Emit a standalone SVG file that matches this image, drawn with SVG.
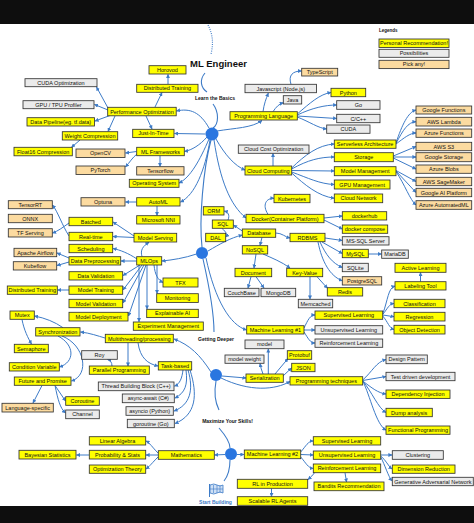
<svg xmlns="http://www.w3.org/2000/svg" width="474" height="523" viewBox="0 0 474 523">
<defs>
<marker id="a" viewBox="0 0 10 10" refX="9" refY="5" markerWidth="4" markerHeight="4" markerUnits="userSpaceOnUse" orient="auto"><path d="M0,0 L10,5 L0,10 z" fill="#3d7bc7"/></marker>
<style>
.y{fill:#ffff00}.g{fill:#ebebeb}.o{fill:#fcdba0}
rect.y,rect.g,rect.o{stroke:#333;stroke-width:.85}
.t{font-family:"Liberation Sans",Arial,sans-serif;font-size:5.5px;text-anchor:middle;fill:#111}
.c path{fill:none;stroke:#3d7bc7;stroke-width:1;marker-end:url(#a)}
.s path{fill:none;stroke:#3d7bc7;stroke-width:1.1}
.h{fill:#2a76e0}
.lbl{font-family:"Liberation Sans",Arial,sans-serif;font-weight:bold;text-anchor:middle;fill:#111}
</style>
</defs>
<rect x="0" y="0" width="474" height="524" fill="#ffffff"/>
<rect x="0" y="0" width="474" height="24" fill="#0e0e0e"/>
<rect x="0" y="506" width="474" height="17" fill="#0e0e0e"/>

<g id="spine" class="s">
<path d="M208 25 Q215 38 211 54" stroke-dasharray="1,1.2"/>
<path d="M205 73 C199 80 201 88 207 92"/>
<path d="M213 104 C219 112 219 124 213 128"/>
<path d="M211 140 C203 170 199 220 202 247"/>
<path d="M203 259 C210 290 214 315 214 332"/>
<path d="M216 381 C214 392 215 402 219 410"/>
<path d="M219 428 C226 436 230 442 230 448"/>
<path d="M230 460 C230 470 228 476 224 481"/>
</g>

<g id="hubs">
<circle class="h" cx="212" cy="134" r="6.5"/>
<circle class="h" cx="202" cy="253" r="6"/>
<circle class="h" cx="216" cy="375" r="6"/>
<circle class="h" cx="231" cy="454" r="6"/>
</g>

<g id="spine-labels">
<text class="lbl" x="218.5" y="66.5" font-size="9.5">ML Engineer</text>
<text class="lbl" x="215" y="99.7" font-size="5">Learn the Basics</text>
<text class="lbl" x="216" y="341" font-size="5">Getting Deeper</text>
<text class="lbl" x="227.5" y="423" font-size="5">Maximize Your Skills!</text>
<text class="lbl" x="215.5" y="503.5" font-size="5" style="fill:#3d7bc7">Start Building</text>
</g>

<g id="flag">
<path d="M209.5 484 L209.5 497" stroke="#3d7bc7" stroke-width="1" fill="none"/>
<path d="M210 485 Q214 483 217 485 T223 485 L223 493 Q220 491 217 493 T210 493 Z" fill="#cfe0f5" stroke="#3d7bc7" stroke-width=".8"/>
<path d="M213.5 485 V493 M217 485 V493 M220 485 V493 M210 489 H223" stroke="#3d7bc7" stroke-width=".6" fill="none"/>
</g>

<g id="legend">
<text class="lbl" x="379" y="32" font-size="4.5" style="text-anchor:start">Legends</text>
<g id="n-leg1"><rect class="y" x="379" y="39" width="70" height="8.5"/><text class="t" x="414" y="45.2">Personal Recommendation!</text></g>
<g id="n-leg2"><rect class="g" x="379" y="49.3" width="70" height="8"/><text class="t" x="414" y="55.3">Possibilities</text></g>
<g id="n-leg3"><rect class="o" x="379" y="60.3" width="70" height="8.3"/><text class="t" x="414" y="66.4">Pick any!</text></g>
</g>

<g id="connectors" class="c">
<path d="M209 128 C200 112 190 108 176.5 111"/>
<path d="M205.5 134 L174.5 133.5"/>
<path d="M207 137 C200 145 192 150 184.5 151.5"/>
<path d="M209 139 C200 160 190 178 179 183"/>
<path d="M210 140 C205 170 195 195 180.5 202"/>
<path d="M217 131 C235 128 252 128 262 120.5"/>
<path d="M216 139 C225 155 235 166 245 170"/>
<path d="M214 140 C220 180 230 205 246 218"/>
<path d="M108 108 L96.5 87"/>
<path d="M108 110 L94.5 104.5"/>
<path d="M110 115.5 L95 121"/>
<path d="M115 116 L108 131.5"/>
<path d="M146 116 L152 129"/>
<path d="M155 107 L162 92.5"/>
<path d="M168 84 L168 74.5"/>
<path d="M80 140 L71.5 147.3"/>
<path d="M136.5 151.5 L125.5 153"/>
<path d="M137 154 C132 158 130 162 125.5 167"/>
<path d="M160 155.7 L160 166.5"/>
<path d="M136.5 202 L125.5 202"/>
<path d="M157 206 L157 215.5"/>
<path d="M134 236 L113 222"/>
<path d="M134 237.5 L113 236.5"/>
<path d="M69 223 C62 228 58 231 52.5 233"/>
<path d="M69 236 C62 225 58 212 52.5 205"/>
<path d="M142 256.5 C140 250 143 246 149 242.3"/>
<path d="M196.5 254 C185 258 172 260 162 261"/>
<path d="M208 251 C220 244 230 238 242.3 235"/>
<path d="M206 258 C215 300 230 325 246.5 330"/>
<path d="M137 259 C128 253 120 250 113 248.5"/>
<path d="M136.5 261 L121 261"/>
<path d="M69 258 L57 253"/>
<path d="M69 262 L57 265.5"/>
<path d="M140 265 L123 275.5"/>
<path d="M142 265 L123 290"/>
<path d="M144 265 L123 303"/>
<path d="M146 265 L128.5 316"/>
<path d="M69 290 L57.5 290"/>
<path d="M154 265 C155 275 158 280 163 282.5"/>
<path d="M157 265 L157 293.5"/>
<path d="M147 265 L147 309"/>
<path d="M139 265 L139 321.7"/>
<path d="M211 372 C200 355 190 345 174 339"/>
<path d="M222 376 L246 378"/>
<path d="M221 378 C250 392 275 390 290 381.5"/>
<path d="M105 338 C98 336 90 333 80.5 332"/>
<path d="M128 342.7 L128 366"/>
<path d="M138 342.7 C140 358 148 364 158 366"/>
<path d="M112 366 C112 362 110 360 107.5 359.5"/>
<path d="M63 327.7 C55 322 45 318 34.5 316"/>
<path d="M22 319.5 C24 330 28 338 31.5 344"/>
<path d="M58 336 C75 345 75 362 59.5 367"/>
<path d="M62 336 C85 345 90 375 71.5 381"/>
<path d="M42 385.5 L33 403"/>
<path d="M55 385.5 L65.5 401"/>
<path d="M55 385.5 C58 400 60 408 65.5 413"/>
<path d="M183 370 C182 378 180 384 174.5 386"/>
<path d="M186 370 C188 385 185 393 175 398"/>
<path d="M188 370 C194 390 190 405 174 411"/>
<path d="M190 370 C198 395 196 415 175 423.5"/>
<path d="M225 454.5 L214.5 455"/>
<path d="M237 454.5 L244 454.5"/>
<path d="M158 453 C152 447 150 443 146 441"/>
<path d="M158 455 L146 455"/>
<path d="M158 457 C152 463 150 466 146 469"/>
<path d="M89 455 L76.5 455"/>
<path d="M300.7 452 C306 446 308 441 313.3 441"/>
<path d="M300.7 454.5 L313.3 455"/>
<path d="M300.7 457 C306 463 308 468 313.3 468.5"/>
<path d="M380.7 455 L392 455"/>
<path d="M380.7 456 C386 460 388 466 392 469"/>
<path d="M380.7 457 C385 465 388 476 392 481"/>
<path d="M345 472.7 L346.5 482"/>
<path d="M315 472 C313 475 311 477 308 479.5"/>
<path d="M271.5 488.3 L271.5 496.5"/>
<path d="M362.7 380 C372 372 376 362 386 359.5"/>
<path d="M362.7 380.5 L386 376.5"/>
<path d="M362.7 381 C372 388 378 393 386 394"/>
<path d="M362.7 381 C372 392 378 408 386 412.5"/>
<path d="M362.7 381 C370 395 376 425 386 430"/>
<path d="M268.3 374 L268.3 349"/>
<path d="M263 374 Q261 369 260 363.5"/>
<path d="M275 374 L288 358.5"/>
<path d="M283 376 L291.5 368"/>
<path d="M304 328 C308 320 310 315 315 315"/>
<path d="M304 330 L315 330"/>
<path d="M304 332 C308 338 310 343 315 343"/>
<path d="M382.7 314 C388 300 388 288 395 286"/>
<path d="M382.7 314.5 C388 308 389 304 394 303.5"/>
<path d="M382.7 315 L394 316.7"/>
<path d="M382.7 316 C388 322 389 328 394 329.5"/>
<path d="M420.5 281.7 L420.5 272.5"/>
<path d="M256 254 L254 268"/>
<path d="M263 254 C272 258 282 262 290 268"/>
<path d="M251 276.7 L248 288"/>
<path d="M256 276.7 L264 288"/>
<path d="M310 276.7 L310 299"/>
<path d="M317 276.7 L327.5 288.3"/>
<path d="M242.3 231 L233.5 225"/>
<path d="M228 220 C230 215 228 212 224.2 211"/>
<path d="M222 228.3 C226 232 228 235 225.7 237"/>
<path d="M275.7 233 C282 233 285 237 290 238"/>
<path d="M262 237.3 L260 245.5"/>
<path d="M325 238 L342.3 240.5"/>
<path d="M322 242 L342.3 253.5"/>
<path d="M320 242 C326 255 332 263 342.3 267.5"/>
<path d="M318 242 C322 262 330 276 342.3 280.8"/>
<path d="M368.3 254 L381.5 254"/>
<path d="M268 214.3 C262 205 266 198 274 198.3"/>
<path d="M324 218 L342.3 216"/>
<path d="M324 220 L342.3 229"/>
<path d="M273 166 L273 153.5"/>
<path d="M291.7 168 C305 155 318 145 334.3 144"/>
<path d="M291.7 169 C308 160 320 157 334.3 157"/>
<path d="M291.7 170.5 L334.3 171"/>
<path d="M291.7 172 C308 178 320 184 334.3 184.5"/>
<path d="M291.7 173 C305 185 318 196 334.3 198.3"/>
<path d="M396 143 C402 125 408 112 416 110"/>
<path d="M396 143.5 C403 130 408 122 416 121.7"/>
<path d="M396 144 C404 138 410 133 416 133"/>
<path d="M393.3 156 L416 146.5"/>
<path d="M393.3 157 L416 157"/>
<path d="M393.3 158 L416 169"/>
<path d="M396 170.5 L416 181.5"/>
<path d="M396 171 L416 192.5"/>
<path d="M396 171.5 C405 185 410 200 416 205"/>
<path d="M297.3 114 C310 103 320 94 331 92.5"/>
<path d="M297.3 115 C312 108 325 105 336.7 105"/>
<path d="M297.3 116 L336.7 118.5"/>
<path d="M297.3 117 C310 122 318 128 326.7 129"/>
<path d="M263 111.7 C264 104 266 99 268.3 93"/>
<path d="M273 111.7 C276 107 279 104 283.3 102.7"/>
<path d="M291 84.3 C288 75 293 71 301.5 71"/>
</g>

<g id="n-cudaopt"><rect class="g" x="25" y="78.7" width="72" height="8"/><text class="t" x="61" y="84.7">CUDA Optimization</text></g>
<g id="n-gpuprof"><rect class="g" x="23" y="100.7" width="71" height="8"/><text class="t" x="58.5" y="106.7">GPU / TPU Profiler</text></g>
<g id="n-datapipe"><rect class="y" x="27" y="117.7" width="67.5" height="8.3"/><text class="t" x="60.75" y="123.85">Data Pipeline(eg. tf.data)</text></g>
<g id="n-perfopt"><rect class="y" x="107.7" y="107.3" width="68.5" height="8.5"/><text class="t" x="141.95" y="113.55">Performance Optimization</text></g>
<g id="n-horovod"><rect class="y" x="149" y="65.7" width="37" height="8.3"/><text class="t" x="167.5" y="71.85">Horovod</text></g>
<g id="n-disttrain1"><rect class="y" x="136.7" y="84.3" width="61.3" height="8"/><text class="t" x="167.35" y="90.3">Distributed Training</text></g>
<g id="n-jit"><rect class="y" x="132.7" y="129.3" width="41.3" height="8.3"/><text class="t" x="153.35" y="135.45">Just-In-Time</text></g>
<g id="n-weightcomp"><rect class="y" x="62.3" y="131.7" width="55.4" height="8.3"/><text class="t" x="90" y="137.85">Weight Compression</text></g>
<g id="n-float16"><rect class="y" x="14" y="147.3" width="58.3" height="8.5"/><text class="t" x="43.15" y="153.55">Float16 Compression</text></g>
<g id="n-opencv"><rect class="o" x="76" y="149" width="49" height="8.5"/><text class="t" x="100.5" y="155.25">OpenCV</text></g>
<g id="n-pytorch"><rect class="o" x="76" y="166" width="49" height="8.5"/><text class="t" x="100.5" y="172.25">PyTorch</text></g>
<g id="n-mlframe"><rect class="y" x="136.7" y="147.3" width="47.6" height="8.4"/><text class="t" x="160.5" y="153.5">ML Frameworks</text></g>
<g id="n-tensorflow"><rect class="o" x="136.7" y="166.7" width="47.3" height="8.3"/><text class="t" x="160.35" y="172.85">Tensorflow</text></g>
<g id="n-os"><rect class="y" x="129.3" y="179.3" width="49.7" height="8"/><text class="t" x="154.15" y="185.3">Operating System</text></g>
<g id="n-optuna"><rect class="o" x="81" y="197.7" width="44" height="8.3"/><text class="t" x="103" y="203.85">Optuna</text></g>
<g id="n-automl"><rect class="y" x="136.7" y="197.7" width="43.3" height="8.3"/><text class="t" x="158.35" y="203.85">AutoML</text></g>
<g id="n-nni"><rect class="y" x="136.7" y="215.7" width="43.3" height="8.3"/><text class="t" x="158.35" y="221.85">Microsoft NNI</text></g>
<g id="n-tensorrt"><rect class="o" x="8.3" y="200.7" width="44" height="8"/><text class="t" x="30.3" y="206.7">TensorRT</text></g>
<g id="n-onnx"><rect class="o" x="8.3" y="214.3" width="44" height="8.4"/><text class="t" x="30.3" y="220.5">ONNX</text></g>
<g id="n-tfserving"><rect class="o" x="8.3" y="228.7" width="44" height="8.3"/><text class="t" x="30.3" y="234.85">TF Serving</text></g>
<g id="n-batched"><rect class="y" x="69" y="217.3" width="43.7" height="8.4"/><text class="t" x="90.85" y="223.5">Batched</text></g>
<g id="n-realtime"><rect class="y" x="69" y="232.3" width="43.7" height="8.4"/><text class="t" x="90.85" y="238.5">Real-time</text></g>
<g id="n-modelserving"><rect class="y" x="134" y="233.3" width="42.7" height="8.7"/><text class="t" x="155.35" y="239.65">Model Serving</text></g>
<g id="n-scheduling"><rect class="y" x="69" y="244.3" width="43.7" height="8.4"/><text class="t" x="90.85" y="250.5">Scheduling</text></g>
<g id="n-airflow"><rect class="o" x="14" y="248.3" width="42.7" height="8.4"/><text class="t" x="35.35" y="254.5">Apache Airflow</text></g>
<g id="n-dataprep"><rect class="y" x="69" y="256.7" width="51.7" height="8.3"/><text class="t" x="94.85" y="262.85">Data Preprocessing</text></g>
<g id="n-mlops"><rect class="y" x="136.7" y="256.7" width="25" height="8.3"/><text class="t" x="149.2" y="262.85">MLOps</text></g>
<g id="n-kubeflow"><rect class="o" x="13.3" y="261.7" width="43.4" height="8.3"/><text class="t" x="35" y="267.85">Kubeflow</text></g>
<g id="n-dataval"><rect class="y" x="69" y="271.7" width="53.7" height="8.3"/><text class="t" x="95.85" y="277.85">Data Validation</text></g>
<g id="n-disttrain2"><rect class="y" x="7.3" y="286" width="50" height="8.3"/><text class="t" x="32.3" y="292.15">Distributed Training</text></g>
<g id="n-modeltrain"><rect class="y" x="69" y="286" width="53.7" height="8.3"/><text class="t" x="95.85" y="292.15">Model Training</text></g>
<g id="n-modelval"><rect class="y" x="69" y="299.3" width="53.7" height="8.4"/><text class="t" x="95.85" y="305.5">Model Validation</text></g>
<g id="n-modeldeploy"><rect class="y" x="69" y="312.3" width="59" height="8.7"/><text class="t" x="98.5" y="318.65">Model Deployment</text></g>
<g id="n-tfx"><rect class="y" x="163" y="278" width="35" height="9"/><text class="t" x="180.5" y="284.5">TFX</text></g>
<g id="n-monitoring"><rect class="y" x="156.7" y="293.7" width="41.6" height="8.7"/><text class="t" x="177.5" y="300.05">Monitoring</text></g>
<g id="n-explainable"><rect class="y" x="146.7" y="309.3" width="51.6" height="8.3"/><text class="t" x="172.5" y="315.45">Explainable AI</text></g>
<g id="n-expmgmt"><rect class="y" x="133.3" y="322" width="70" height="8.3"/><text class="t" x="168.3" y="328.15">Experiment Management</text></g>
<g id="n-mutex"><rect class="y" x="10" y="311" width="24.3" height="8.3"/><text class="t" x="22.15" y="317.15">Mutex</text></g>
<g id="n-sync"><rect class="y" x="35.7" y="327.7" width="44.3" height="8.3"/><text class="t" x="57.85" y="333.85">Synchronization</text></g>
<g id="n-semaphore"><rect class="y" x="14.3" y="344.3" width="34" height="8.4"/><text class="t" x="31.3" y="350.5">Semaphore</text></g>
<g id="n-multithread"><rect class="y" x="105.3" y="334.3" width="68" height="8.4"/><text class="t" x="139.3" y="340.5">Multithreading/processing</text></g>
<g id="n-roy"><rect class="g" x="81.7" y="350.7" width="35.6" height="8.6"/><text class="t" x="99.5" y="357">Roy</text></g>
<g id="n-parallel"><rect class="y" x="89.3" y="366" width="60" height="8.3"/><text class="t" x="119.3" y="372.15">Parallel Programming</text></g>
<g id="n-condvar"><rect class="y" x="9.3" y="362.7" width="50" height="8.3"/><text class="t" x="34.3" y="368.85">Condition Variable</text></g>
<g id="n-future"><rect class="y" x="14.3" y="377" width="56.7" height="8.3"/><text class="t" x="42.65" y="383.15">Future and Promise</text></g>
<g id="n-tbb"><rect class="g" x="98.3" y="382" width="75.7" height="8.7"/><text class="t" x="136.15" y="388.35">Thread Building Block (C++)</text></g>
<g id="n-taskbased"><rect class="y" x="158.3" y="361.7" width="33.4" height="8.3"/><text class="t" x="175" y="367.85">Task-based</text></g>
<g id="n-lang"><rect class="o" x="2" y="403.3" width="51.3" height="8.7"/><text class="t" x="27.65" y="409.65">Language-specific</text></g>
<g id="n-coroutine"><rect class="y" x="65.7" y="396.7" width="33.6" height="8.6"/><text class="t" x="82.5" y="403">Coroutine</text></g>
<g id="n-channel"><rect class="g" x="65.7" y="410" width="33.6" height="8.7"/><text class="t" x="82.5" y="416.35">Channel</text></g>
<g id="n-asyncawait"><rect class="g" x="122.3" y="394" width="52" height="8.7"/><text class="t" x="148.3" y="400.35">async-await (C#)</text></g>
<g id="n-asyncio"><rect class="g" x="126" y="406.7" width="47.3" height="8.6"/><text class="t" x="149.65" y="413">asyncio (Python)</text></g>
<g id="n-goroutine"><rect class="g" x="127.3" y="419.3" width="47" height="8.4"/><text class="t" x="150.8" y="425.5">goroutine (Go)</text></g>
<g id="n-linalg"><rect class="y" x="89.3" y="436.7" width="56.4" height="8.3"/><text class="t" x="117.5" y="442.85">Linear Algebra</text></g>
<g id="n-probstats"><rect class="y" x="89.3" y="450.3" width="56.4" height="8.7"/><text class="t" x="117.5" y="456.65">Probability &amp; Stats</text></g>
<g id="n-bayes"><rect class="y" x="19" y="450.3" width="57" height="8.7"/><text class="t" x="47.5" y="456.65">Bayesian Statistics</text></g>
<g id="n-opttheory"><rect class="y" x="89.3" y="465" width="56.4" height="8.3"/><text class="t" x="117.5" y="471.15">Optimization Theory</text></g>
<g id="n-math"><rect class="y" x="158.3" y="450.7" width="56" height="8.6"/><text class="t" x="186.3" y="457">Mathematics</text></g>
<g id="n-ml2"><rect class="y" x="244.3" y="450" width="56.4" height="8.7"/><text class="t" x="272.5" y="456.35">Machine Learning #2</text></g>
<g id="n-rlprod"><rect class="y" x="237.3" y="479.3" width="70.4" height="9"/><text class="t" x="272.5" y="485.8">RL in Production</text></g>
<g id="n-scalable"><rect class="y" x="237.3" y="496.7" width="70.4" height="8.6"/><text class="t" x="272.5" y="503">Scalable RL Agents</text></g>
<g id="n-depinj"><rect class="y" x="386" y="390" width="64" height="8.4"/><text class="t" x="418" y="396.2">Dependency Injection</text></g>
<g id="n-dump"><rect class="y" x="386" y="408.3" width="46.3" height="8.4"/><text class="t" x="409.15" y="414.5">Dump analysis</text></g>
<g id="n-funcprog"><rect class="y" x="386" y="426" width="64" height="8.3"/><text class="t" x="418" y="432.15">Functional Programming</text></g>
<g id="n-sup2"><rect class="y" x="313.3" y="436.7" width="67.4" height="8.3"/><text class="t" x="347" y="442.85">Supervised Learning</text></g>
<g id="n-unsup2"><rect class="y" x="313.3" y="451" width="67.4" height="8.3"/><text class="t" x="347" y="457.15">Unsupervised Learning</text></g>
<g id="n-rl2"><rect class="y" x="313.3" y="464" width="67.4" height="8.7"/><text class="t" x="347" y="470.35">Reinforcement Learning</text></g>
<g id="n-bandits"><rect class="y" x="314" y="482" width="70" height="8.7"/><text class="t" x="349" y="488.35">Bandits Recommendation</text></g>
<g id="n-clustering"><rect class="g" x="392.3" y="450.7" width="51" height="8.6"/><text class="t" x="417.8" y="457">Clustering</text></g>
<g id="n-dimred"><rect class="y" x="392.3" y="465" width="62.7" height="8.3"/><text class="t" x="423.65" y="471.15">Dimension Reduction</text></g>
<g id="n-gan"><rect class="g" x="392.3" y="477.3" width="81" height="8.4"/><text class="t" x="432.8" y="483.5">Generative Adversarial Network</text></g>
<g id="n-sqlite"><rect class="g" x="342.3" y="263.3" width="26" height="8.4"/><text class="t" x="355.3" y="269.5">SQLite</text></g>
<g id="n-postgres"><rect class="o" x="342.3" y="276.7" width="39.4" height="8.3"/><text class="t" x="362" y="282.85">PostgreSQL</text></g>
<g id="n-redis"><rect class="y" x="327.3" y="287.7" width="35.4" height="8.3"/><text class="t" x="345" y="293.85">Redis</text></g>
<g id="n-memcached"><rect class="g" x="298.3" y="299.3" width="34.4" height="8.5"/><text class="t" x="315.5" y="305.55">Memcached</text></g>
<g id="n-keyvalue"><rect class="y" x="286.7" y="268.3" width="36" height="8.4"/><text class="t" x="304.7" y="274.5">Key-Value</text></g>
<g id="n-document"><rect class="y" x="235" y="268.3" width="36.7" height="8.4"/><text class="t" x="253.35" y="274.5">Document</text></g>
<g id="n-couchbase"><rect class="g" x="224.3" y="288.3" width="34.7" height="8.4"/><text class="t" x="241.65" y="294.5">CouchBase</text></g>
<g id="n-mongodb"><rect class="g" x="261" y="288.3" width="34.7" height="8.4"/><text class="t" x="278.35" y="294.5">MongoDB</text></g>
<g id="n-active"><rect class="y" x="395" y="263.3" width="51" height="9"/><text class="t" x="420.5" y="269.8">Active Learning</text></g>
<g id="n-labeling"><rect class="y" x="395" y="281.7" width="51" height="8.3"/><text class="t" x="420.5" y="287.85">Labeling Tool</text></g>
<g id="n-sup1"><rect class="y" x="315" y="311" width="67.7" height="8.3"/><text class="t" x="348.85" y="317.15">Supervised Learning</text></g>
<g id="n-classif"><rect class="y" x="394" y="299.3" width="51" height="8.4"/><text class="t" x="419.5" y="305.5">Classification</text></g>
<g id="n-regression"><rect class="y" x="394" y="312.3" width="51" height="8.7"/><text class="t" x="419.5" y="318.65">Regression</text></g>
<g id="n-objdet"><rect class="y" x="394" y="325.3" width="51" height="8.7"/><text class="t" x="419.5" y="331.65">Object Detection</text></g>
<g id="n-unsup1"><rect class="g" x="315" y="325.7" width="67.7" height="8.3"/><text class="t" x="348.85" y="331.85">Unsupervised Learning</text></g>
<g id="n-rl1"><rect class="g" x="315" y="339" width="67.7" height="8.3"/><text class="t" x="348.85" y="345.15">Reinforcement Learning</text></g>
<g id="n-designpat"><rect class="g" x="386" y="355" width="41.3" height="8.7"/><text class="t" x="406.65" y="361.35">Design Pattern</text></g>
<g id="n-tdd"><rect class="g" x="386" y="372.3" width="69" height="8.4"/><text class="t" x="420.5" y="378.5">Test driven development</text></g>
<g id="n-progtech"><rect class="y" x="290" y="376.7" width="72.7" height="8.3"/><text class="t" x="326.35" y="382.85">Programming techniques</text></g>
<g id="n-ml1"><rect class="y" x="246.7" y="325.7" width="57.3" height="8.3"/><text class="t" x="275.35" y="331.85">Machine Learning #1</text></g>
<g id="n-model"><rect class="g" x="245" y="340" width="39" height="8.7"/><text class="t" x="264.5" y="346.35">model</text></g>
<g id="n-modelweight"><rect class="g" x="225" y="355" width="39" height="8.3"/><text class="t" x="244.5" y="361.15">model weight</text></g>
<g id="n-protobuf"><rect class="y" x="287.3" y="350.7" width="24.4" height="8.6"/><text class="t" x="299.5" y="357">Protobuf</text></g>
<g id="n-json"><rect class="y" x="291.7" y="363.3" width="23.3" height="8.4"/><text class="t" x="303.35" y="369.5">JSON</text></g>
<g id="n-serialization"><rect class="y" x="246" y="374" width="37.3" height="8.3"/><text class="t" x="264.65" y="380.15">Serialization</text></g>
<g id="n-cloudcost"><rect class="g" x="238.3" y="145" width="70.7" height="8.3"/><text class="t" x="273.65" y="151.15">Cloud Cost Optimization</text></g>
<g id="n-cloudcomp"><rect class="y" x="245" y="166" width="46.7" height="9"/><text class="t" x="268.35" y="172.5">Cloud Computing</text></g>
<g id="n-kubernetes"><rect class="y" x="274" y="194.3" width="36" height="8.4"/><text class="t" x="292" y="200.5">Kubernetes</text></g>
<g id="n-docker"><rect class="y" x="246" y="214.3" width="78" height="8.4"/><text class="t" x="285" y="220.5">Docker(Container Platform)</text></g>
<g id="n-orm"><rect class="y" x="203.3" y="206.7" width="20.7" height="8.3"/><text class="t" x="213.65" y="212.85">ORM</text></g>
<g id="n-sql"><rect class="y" x="212.3" y="220" width="21" height="8.3"/><text class="t" x="222.8" y="226.15">SQL</text></g>
<g id="n-dal"><rect class="y" x="205.7" y="233.3" width="20" height="8.4"/><text class="t" x="215.7" y="239.5">DAL</text></g>
<g id="n-database"><rect class="y" x="242.3" y="229" width="33.4" height="8.3"/><text class="t" x="259" y="235.15">Database</text></g>
<g id="n-rdbms"><rect class="y" x="290" y="233.3" width="35" height="8.4"/><text class="t" x="307.5" y="239.5">RDBMS</text></g>
<g id="n-nosql"><rect class="y" x="242.3" y="245.7" width="25.4" height="8.3"/><text class="t" x="255" y="251.85">NoSQL</text></g>
<g id="n-googlefn"><rect class="o" x="416" y="106" width="55.7" height="8"/><text class="t" x="443.85" y="112">Google Functions</text></g>
<g id="n-awslambda"><rect class="o" x="416" y="117.3" width="55.7" height="8.7"/><text class="t" x="443.85" y="123.65">AWS Lambda</text></g>
<g id="n-azurefn"><rect class="o" x="416" y="129" width="55.7" height="8.3"/><text class="t" x="443.85" y="135.15">Azure Functions</text></g>
<g id="n-awss3"><rect class="o" x="416" y="142.3" width="55.7" height="8.4"/><text class="t" x="443.85" y="148.5">AWS S3</text></g>
<g id="n-gstorage"><rect class="o" x="416" y="152.7" width="55.7" height="9"/><text class="t" x="443.85" y="159.2">Google Storage</text></g>
<g id="n-azureblobs"><rect class="o" x="416" y="165" width="55.7" height="8.3"/><text class="t" x="443.85" y="171.15">Azure Blobs</text></g>
<g id="n-sagemaker"><rect class="o" x="416" y="177.3" width="55.7" height="8.4"/><text class="t" x="443.85" y="183.5">AWS SageMaker</text></g>
<g id="n-gaip"><rect class="o" x="416" y="188.3" width="55.7" height="8.4"/><text class="t" x="443.85" y="194.5">Google AI Platform</text></g>
<g id="n-azureml"><rect class="o" x="416" y="200.7" width="55.7" height="8.6"/><text class="t" x="443.85" y="207">Azure AutomatedML</text></g>
<g id="n-serverless"><rect class="y" x="334.3" y="140" width="61.7" height="8.3"/><text class="t" x="365.15" y="146.15">Serverless Architecture</text></g>
<g id="n-storage"><rect class="y" x="334.3" y="152.7" width="59" height="9"/><text class="t" x="363.8" y="159.2">Storage</text></g>
<g id="n-modelmgmt"><rect class="y" x="334.3" y="166.7" width="61.7" height="9"/><text class="t" x="365.15" y="173.2">Model Management</text></g>
<g id="n-gpumgmt"><rect class="y" x="334.3" y="180" width="55.7" height="9"/><text class="t" x="362.15" y="186.5">GPU Management</text></g>
<g id="n-cloudnet"><rect class="y" x="334.3" y="194" width="48.4" height="8.7"/><text class="t" x="358.5" y="200.35">Cloud Network</text></g>
<g id="n-dockerhub"><rect class="y" x="342.3" y="211.7" width="44.4" height="8.3"/><text class="t" x="364.5" y="217.85">dockerhub</text></g>
<g id="n-dockercompose"><rect class="y" x="342.3" y="225" width="45.4" height="8.3"/><text class="t" x="365" y="231.15">docker compose</text></g>
<g id="n-mssql"><rect class="g" x="342.3" y="236.7" width="46.7" height="8.3"/><text class="t" x="365.65" y="242.85">MS-SQL Server</text></g>
<g id="n-mysql"><rect class="y" x="342.3" y="249.3" width="26" height="8.4"/><text class="t" x="355.3" y="255.5">MySQL</text></g>
<g id="n-mariadb"><rect class="g" x="381.7" y="250" width="26.6" height="8.3"/><text class="t" x="395" y="256.15">MariaDB</text></g>
<g id="n-typescript"><rect class="o" x="301.7" y="68.3" width="36" height="7.7"/><text class="t" x="319.7" y="74.15">TypeScript</text></g>
<g id="n-javascript"><rect class="g" x="245" y="84.3" width="71.5" height="8.4"/><text class="t" x="280.75" y="90.5">Javascript (Node.js)</text></g>
<g id="n-java"><rect class="g" x="283.3" y="95.7" width="18.4" height="8.3"/><text class="t" x="292.5" y="101.85">Java</text></g>
<g id="n-proglang"><rect class="y" x="230" y="111.7" width="67.3" height="8.3"/><text class="t" x="263.65" y="117.85">Programming Language</text></g>
<g id="n-python"><rect class="y" x="331" y="88.3" width="34.7" height="8.4"/><text class="t" x="348.35" y="94.5">Python</text></g>
<g id="n-go"><rect class="g" x="336.7" y="100.7" width="43.3" height="8.6"/><text class="t" x="358.35" y="107">Go</text></g>
<g id="n-cpp"><rect class="g" x="336.7" y="114.3" width="43.3" height="8.4"/><text class="t" x="358.35" y="120.5">C/C++</text></g>
<g id="n-cuda"><rect class="g" x="326.7" y="125" width="43.3" height="8.3"/><text class="t" x="348.35" y="131.15">CUDA</text></g>
</svg>
